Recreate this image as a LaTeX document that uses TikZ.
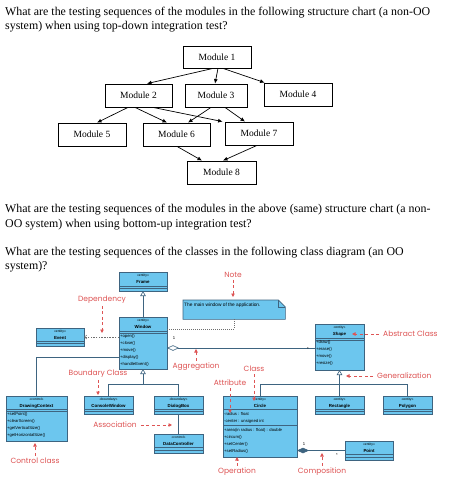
\documentclass[tikz,border=0pt]{standalone}
\usepackage{fontspec}
\setmainfont{Liberation Serif}
\newfontfamily\lsans{Liberation Sans}
\newfontfamily\pop{Poppins}
\usetikzlibrary{arrows.meta,calc}
\definecolor{clsfill}{RGB}{108,198,238}
\definecolor{clsdraw}{RGB}{62,100,128}
\definecolor{annred}{RGB}{222,84,84}
\definecolor{depgray}{RGB}{110,110,110}
\tikzset{
 mod/.style={draw=black, line width=0.8pt, inner sep=0, font=\fontsize{9.5}{11}\selectfont},
 marr/.style={-{Latex[length=4.5pt,width=4pt]}, line width=0.7pt},
 cls/.style={draw=clsdraw, fill=clsfill, line width=0.6pt, inner sep=0, outer sep=0},
 clsline/.style={draw=clsdraw, line width=0.6pt},
 stereo/.style={inner sep=0, font=\lsans\fontsize{3.4}{3.5}\selectfont},
 cname/.style={inner sep=0, font=\lsans\bfseries\fontsize{4.4}{5}\selectfont},
 op/.style={inner sep=0, anchor=west, font=\lsans\fontsize{4.2}{5}\selectfont},
 mult/.style={inner sep=0, font=\lsans\fontsize{4.2}{5}\selectfont},
 ann/.style={inner sep=0, text=annred, font=\pop\fontsize{7.5}{8}\selectfont},
 redarr/.style={draw=annred, line width=0.8pt, dash pattern=on 3pt off 2.5pt, -{Triangle[length=3.5pt,width=3.5pt]}},
 gen/.style={clsline, -{Triangle[open,length=5pt,width=5.5pt]}},
 dep/.style={draw=depgray, line width=0.5pt, dash pattern=on 1.5pt off 1.2pt, -{Straight Barb[length=2.5pt,width=4pt]}},
 notel/.style={draw=depgray, line width=0.5pt, dash pattern=on 1pt off 1pt},
 q/.style={inner sep=0, anchor=west, font=\fontsize{11.9}{13}\selectfont},
}
\newcommand\ucls[7]{%
 \node[cls, minimum width=#4pt, minimum height=#5pt, anchor=north west] (#1) at (#2,#3) {};
 \node[stereo] at ([yshift=-3.2pt]#1.north) {«#6»};
 \node[cname] at ([yshift=-10pt]#1.north) {#7};
}
\newcommand\udiv[2]{\draw[clsline] ([yshift=-#2pt]#1.north west) -- ([yshift=-#2pt]#1.north east);}
\begin{document}
\begin{tikzpicture}[x=1pt,y=-1pt]
\useasboundingbox[fill=white] (0,0) rectangle (474,500);
% questions
\node[q] (q1a) at (5,13) {What are the testing sequences of the modules in the following structure chart (a non-OO};
\node[q] (q1b) at (5,27) {system) when using top-down integration test?};
\node[q] (q2a) at (5,210) {What are the testing sequences of the modules in the above (same) structure chart (a non-};
\node[q] (q2b) at (5,225) {OO system) when using bottom-up integration test?};
\node[q] (q3a) at (5,253) {What are the testing sequences of the classes in the following class diagram (an OO};
\node[q] (q3b) at (5,267) {system)?};
% structure chart
\node[mod, minimum width=68pt, minimum height=22pt] (m1) at (217,57) {Module 1};
\node[mod, minimum width=67pt, minimum height=23pt] (m2) at (138.5,95.5) {Module 2};
\node[mod, minimum width=62pt, minimum height=23pt] (m3) at (216,95.5) {Module 3};
\node[mod, minimum width=68pt, minimum height=23pt] (m4) at (298,94.5) {Module 4};
\node[mod, minimum width=68pt, minimum height=23pt] (m5) at (92,134.5) {Module 5};
\node[mod, minimum width=67pt, minimum height=23pt] (m6) at (176.5,134.5) {Module 6};
\node[mod, minimum width=68pt, minimum height=23pt] (m7) at (259,133.5) {Module 7};
\node[mod, minimum width=69pt, minimum height=23pt] (m8) at (221.5,172.5) {Module 8};
\draw[marr] ([xshift=-4pt]m1.south) -- ([xshift=8.5pt]m2.north);
\draw[marr] ([xshift=1pt]m1.south) -- ([xshift=-1pt]m3.north);
\draw[marr] ([xshift=6pt]m1.south) -- ([xshift=1pt]m4.north west);
\draw[marr] ([xshift=-10.5pt]m2.south) -- ([xshift=5pt]m5.north);
\draw[marr] ([xshift=-3.5pt]m2.south) -- ([xshift=-9.5pt]m6.north);
\draw[marr] ([xshift=14.5pt]m2.south) -- ([xshift=-2pt]m7.north west);
\draw[marr] ([xshift=-5pt]m3.south) -- ([xshift=11.5pt]m6.north);
\draw[marr] ([xshift=9pt]m3.south) -- ([xshift=-14pt]m7.north);
\draw[marr] ([xshift=0.5pt]m6.south) -- ([xshift=-19.5pt]m8.north);
\draw[marr] ([xshift=-2pt]m7.south) -- ([xshift=1.5pt]m8.north);
% classes
\ucls{frame}{119}{272}{48}{19}{entity}{Frame}
\udiv{frame}{14}\udiv{frame}{16.5}
\ucls{win}{119}{317}{48}{52}{entity}{Window}
\udiv{win}{14}\udiv{win}{16}
\node[op, xshift=1pt] at (win.west |- 0,336) {+open()};
\node[op, xshift=1pt] at (win.west |- 0,343) {+close()};
\node[op, xshift=1pt] at (win.west |- 0,350) {+move()};
\node[op, xshift=1pt] at (win.west |- 0,357) {+display()};
\node[op, xshift=1pt] at (win.west |- 0,364) {+handleEvent()};
\ucls{event}{36}{328}{48}{18}{entity}{Event}
\udiv{event}{13.5}\udiv{event}{15.5}
\node[cls, minimum width=49pt, minimum height=46pt, anchor=north west] (shape) at (315,324) {};
\node[stereo] at ([yshift=-3.2pt]shape.north) {«entity»};
\node[cname] at ([yshift=-10.5pt]shape.north) {\itshape Shape};
\udiv{shape}{14}\udiv{shape}{16}
\node[op, xshift=1pt] at (shape.west |- 0,342) {+draw()};
\node[op, xshift=1pt] at (shape.west |- 0,349) {+erase()};
\node[op, xshift=1pt] at (shape.west |- 0,356) {+move()};
\node[op, xshift=1pt] at (shape.west |- 0,363) {+resize()};
\ucls{rect}{315}{396}{49}{18}{entity}{Rectangle}
\udiv{rect}{13}\udiv{rect}{15.5}
\ucls{poly}{383}{396}{49}{18}{entity}{Polygon}
\udiv{poly}{13}\udiv{poly}{15.5}
\ucls{circ}{223}{396}{74}{61}{entity}{Circle}
\udiv{circ}{13}\udiv{circ}{29}
\node[op, xshift=1pt] at (circ.west |- 0,414) {-radius : float};
\node[op, xshift=1pt] at (circ.west |- 0,421) {-center : unsigned int};
\node[op, xshift=1pt] at (circ.west |- 0,430) {+area(in radius : float) : double};
\node[op, xshift=1pt] at (circ.west |- 0,437) {+circum()};
\node[op, xshift=1pt] at (circ.west |- 0,444) {+setCenter()};
\node[op, xshift=1pt] at (circ.west |- 0,451) {+setRadius()};
\ucls{pt}{345}{441}{48}{19}{entity}{Point}
\udiv{pt}{13.5}\udiv{pt}{16}
\ucls{dc}{6}{396}{61}{45}{control}{DrawingContext}
\udiv{dc}{13}\udiv{dc}{15}
\node[op, xshift=1pt] at (dc.west |- 0,414) {+setPoint()};
\node[op, xshift=1pt] at (dc.west |- 0,421) {+clearScreen()};
\node[op, xshift=1pt] at (dc.west |- 0,428) {+getVerticalSize()};
\node[op, xshift=1pt] at (dc.west |- 0,435) {+getHorizontalSize()};
\ucls{cw}{84}{396}{49}{18}{boundary}{ConsoleWindow}
\udiv{cw}{13}\udiv{cw}{15.5}
\ucls{db}{154}{396}{49}{18}{boundary}{DialogBox}
\udiv{db}{13}\udiv{db}{15.5}
\ucls{dctl}{154}{434}{49}{19}{control}{DataController}
\udiv{dctl}{13.5}\udiv{dctl}{16}
% note
\node[inner sep=0, minimum width=102pt, minimum height=19pt, anchor=north west] (note) at (183,300) {};
\draw[cls] (note.north west) -- ([xshift=-7pt]note.north east) -- ([yshift=-7pt]note.north east) -- (note.south east) -- (note.south west) -- cycle;
\draw[clsline] ([xshift=-7pt]note.north east) |- ([yshift=-7pt]note.north east);
\node[op, xshift=1pt, font=\lsans\fontsize{4.8}{5}\selectfont] at (note.west |- 0,305) {The main window of the application.};
% relations
\draw[gen] (win.north) -- (frame.south);
\draw[dep] (win.west |- event.east) -- (event.east);
\draw[notel] (note.south) |- ([yshift=14pt]win.east);
\draw[clsline, {Diamond[open,length=12pt,width=5.5pt]}-] ([yshift=-5pt]win.east) -- ([yshift=-5pt]win.east -| shape.west);
\node[mult] at (174,338) {1};
\node[mult] at (308,349) {*};
\draw[clsline] ([yshift=-14pt]win.west) -| (dc.north);
\draw[clsline] (cw.north) -- ++(0,-12) -| (db.north);
\draw[gen] (win.south |- 0,384) -- (win.south);
\draw[clsline] (db.south) -- (dctl.north);
\draw[clsline] (circ.north) -- ++(0,-12) -| (poly.north);
\draw[gen] (rect.north) -- (shape.south);
\draw[clsline, {Diamond[length=12pt,width=5.5pt]}-] (circ.east |- pt.west) -- (pt.west);
\node[mult] at (304,444) {1};
\node[mult] at (337,455) {*};
% annotations
\node[ann] (lnote) at (233,275) {Note};
\coordinate (tnote) at (233,297);
\draw[redarr] ([yshift=-2pt]lnote.south) -- (tnote);
\node[ann] (ldep) at (102,300) {Dependency};
\coordinate (tdep) at (102,333);
\draw[redarr] ([yshift=-2pt]ldep.south) -- (tdep);
\node[ann] (lagg) at (196,367) {Aggregation};
\coordinate (tagg) at (196,349);
\draw[redarr] ([yshift=2pt]lagg.north) -- (tagg);
\node[ann] (lclass) at (254,369) {Class};
\coordinate (tclass) at (254,401);
\draw[redarr] ([yshift=-2pt]lclass.south) -- (tclass);
\node[ann] (lattr) at (230,383) {Attribute};
\coordinate (tattr) at (230,413);
\draw[redarr] ([yshift=-2pt]lattr.south) -- (tattr);
\node[ann] (lbnd) at (98,374) {Boundary Class};
\coordinate (tbnd) at (98,395);
\draw[redarr] ([yshift=-2pt]lbnd.south) -- (tbnd);
\node[ann] (lassoc) at (115,425) {Association};
\coordinate (tassoc) at (172,425);
\draw[redarr] ([xshift=4pt]lassoc.east) -- (tassoc);
\node[ann] (lctl) at (35,461) {Control class};
\coordinate (tctl) at (35,443);
\draw[redarr] ([yshift=2pt]lctl.north) -- (tctl);
\node[ann] (lop) at (237,472) {Operation};
\coordinate (top) at (237,457);
\draw[redarr] ([yshift=2pt]lop.north) -- (top);
\node[ann] (lcomp) at (322,472) {Composition};
\coordinate (tcomp) at (322,453);
\draw[redarr] ([yshift=2pt]lcomp.north) -- (tcomp);
\node[ann, anchor=west] (labs) at (383,334) {Abstract Class};
\coordinate (tabs) at (352,334);
\draw[redarr] ([xshift=-4pt]labs.west) -- (tabs);
\node[ann, anchor=west] (lgen) at (377,376) {Generalization};
\coordinate (tgen) at (346,376);
\draw[redarr] ([xshift=-4pt]lgen.west) -- (tgen);
\end{tikzpicture}
\end{document}
